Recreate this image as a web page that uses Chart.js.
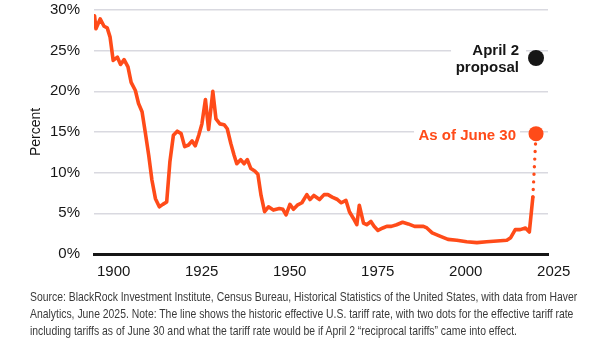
<!DOCTYPE html>
<html>
<head>
<meta charset="utf-8">
<script src="https://cdn.jsdelivr.net/npm/chart.js@4.4.1/dist/chart.umd.min.js"></script>
<style>
  html, body { margin: 0; padding: 0; background: #fff; }
  #wrap { position: relative; width: 602px; height: 342px; overflow: hidden; }
  #note {
    position: absolute; left: 30px; top: 288px;
    font: 13px 'Liberation Sans', Arial, sans-serif;
    line-height: 17px; color: #3a3a3a;
    transform-origin: 0 0; white-space: nowrap;
  }
  #note span { display: inline-block; }
</style>
</head>
<body>
<div id="wrap">
  <canvas id="tariff-chart"></canvas>
  <div id="note">
    <span id="note-l1">Source: BlackRock Investment Institute, Census Bureau, Historical Statistics of the United States, with data from Haver</span><br>
    <span>Analytics, June 2025. Note: The line shows the historic effective U.S. tariff rate, with two dots for the effective tariff rate</span><br>
    <span>including tariffs as of June 30 and what the tariff rate would be if April 2 “reciprocal tariffs” came into effect.</span>
  </div>
</div>
<script>
/* effective U.S. tariff rate, 1899 – 2025 */

// ── DATA ──────────────────────────────────────────────────────────────────────
const years = [
  1899.3, 1899.7, 1900.9, 1902.0, 1902.9, 1903.7, 1904.6, 1905.8, 1906.7, 1907.7,
  1908.8, 1909.7, 1910.9, 1911.8, 1912.8, 1913.7, 1914.7, 1915.6, 1916.6, 1917.7,
  1918.7, 1919.8, 1920.7, 1921.7, 1922.8, 1923.9, 1924.9, 1926.0, 1927.0, 1927.9,
  1928.9, 1929.8, 1930.8, 1931.7, 1932.9, 1933.8, 1934.9, 1936.1, 1937.0, 1938.0,
  1938.9, 1939.7, 1940.8, 1941.8, 1942.7, 1943.7, 1944.8, 1945.7, 1946.6, 1947.6,
  1948.7, 1950.1, 1951.8, 1952.8, 1953.7, 1954.8, 1955.8, 1956.9, 1958.2, 1959.6,
  1960.5, 1961.6, 1963.2, 1964.5, 1965.6, 1966.8, 1968.3, 1969.4, 1970.7, 1971.7,
  1972.8, 1973.8, 1974.5, 1975.7, 1976.6, 1977.8, 1978.7, 1979.8, 1981.2, 1982.3,
  1983.6, 1985.1, 1986.8, 1988.4, 1990.2, 1992.7, 1993.7, 1995.2, 1997.4, 1999.7,
  2002.2, 2005.0, 2007.9, 2010.7, 2013.6, 2016.4, 2017.5, 2018.8, 2020.2, 2021.7,
  2022.8, 2023.8
];
const rates = [
  29.3, 27.7, 28.9, 28.0, 27.8, 26.7, 23.8, 24.2, 23.3, 23.9,
  23.0, 21.1, 20.1, 18.5, 17.5, 15.0, 12.1,  9.1,  6.8,  5.8,
   6.1,  6.4, 11.3, 14.6, 15.1, 14.8, 13.2, 13.4, 13.9, 13.3,
  14.6, 16.0, 19.0, 15.3, 20.0, 16.6, 16.0, 15.9, 15.4, 13.6,
  12.2, 11.1, 11.6, 11.1, 11.6, 10.5, 10.2,  9.8,  7.2,  5.2,
   5.8,  5.4,  5.6,  5.5,  4.8,  6.1,  5.5,  6.0,  6.3,  7.3,
   6.7,  7.2,  6.7,  7.3,  7.3,  7.0,  6.7,  6.3,  6.6,  5.2,
   4.4,  3.6,  6.0,  3.8,  3.6,  4.0,  3.4,  2.9,  3.2,  3.4,
   3.4,  3.6,  3.9,  3.7,  3.4,  3.4,  3.2,  2.6,  2.2,  1.8,
   1.7,  1.5,  1.4,  1.5,  1.6,  1.7,  2.0,  3.0,  3.0,  3.2,
   2.7,  7.0
];

const dotYear     = 2024.7;
const june30Rate  = 14.8;   // "As of June 30"
const aprilRate   = 24.1;   // "April 2 proposal"

const xTicks = [1900, 1925, 1950, 1975, 2000, 2025];
const yTicks = [0, 5, 10, 15, 20, 25, 30];

// ── STYLE ─────────────────────────────────────────────────────────────────────
const ORANGE = '#ff4b19';
const INK    = '#161616';
const GRID   = '#d9d9e0';
const FONT   = "'Liberation Sans', Arial, sans-serif";

// ── PLUGINS ───────────────────────────────────────────────────────────────────
// fixes the plot box so it sits where the original does
const fixedBox = {
  y: s => { s.width = 94; s.paddingTop = 0; s.paddingBottom = 0; },
  x: s => { s.height = 30; }
};

// labels beside the two 2025 dots, on a white patch that hides the gridline
const dotLabels = {
  id: 'dotLabels',
  beforeDatasetsDraw(chart) {
    const { ctx, scales: { x, y } } = chart;
    const px  = x.getPixelForValue(dotYear);
    const pyA = y.getPixelForValue(aprilRate);
    const pyJ = y.getPixelForValue(june30Rate);
    ctx.save();
    ctx.fillStyle = '#fff';
    ctx.fillRect(px - 85, pyA - 19, 75, 39);
    ctx.fillRect(px - 122, pyJ - 10, 106, 20);
    ctx.font      = 'bold 15px ' + FONT;
    ctx.textAlign = 'right';
    ctx.fillStyle = INK;
    ctx.fillText('April 2',  px - 17, pyA - 3);
    ctx.fillText('proposal', px - 17, pyA + 14);
    ctx.fillStyle = ORANGE;
    ctx.fillText('As of June 30', px - 20, pyJ + 6);
    ctx.restore();
  }
};

// ── CHART ─────────────────────────────────────────────────────────────────────
const linePts = years.map((yr, i) => ({ x: yr, y: rates[i] }));
const last    = linePts[linePts.length - 1];

new Chart(document.getElementById('tariff-chart'), {
  type: 'scatter',
  data: {
    datasets: [
      {
        data:             [{ x: dotYear, y: aprilRate }, { x: dotYear, y: june30Rate }],
        pointRadius:      [8, 7.5],
        pointBackgroundColor: [INK, ORANGE],
        pointBorderWidth: 0,
        showLine:         false,
        order:            0
      },
      {
        data:           linePts,
        showLine:       true,
        borderColor:    ORANGE,
        borderWidth:    3.6,
        borderJoinStyle:'round',
        borderCapStyle: 'round',
        pointRadius:    0,
        tension:        0,
        order:          1
      },
      {
        data:           [last, { x: dotYear, y: june30Rate }],
        showLine:       true,
        borderColor:    ORANGE,
        borderWidth:    3.4,
        borderDash:     [0, 7.6],
        borderCapStyle: 'round',
        pointRadius:    0,
        order:          2
      }
    ]
  },
  options: {
    responsive:          true,
    maintainAspectRatio: false,
    animation:           false,
    layout: {
      autoPadding: false,
      padding: { left: 0, right: 54, top: 10, bottom: 58 }
    },
    plugins: {
      legend:  { display: false },
      tooltip: { enabled: false }
    },
    scales: {
      x: {
        type: 'linear',
        min:  1899.15,
        max:  2028.1,
        afterFit: fixedBox.x,
        afterBuildTicks: s => { s.ticks = xTicks.map(v => ({ value: v })); },
        grid:   { display: false, drawTicks: false },
        border: { display: true, color: INK, width: 3 },
        ticks: {
          align:   'start',
          padding: 9,
          color:   INK,
          font:    { family: FONT, size: 15 },
          callback: v => String(v)
        }
      },
      y: {
        min: 0,
        max: 30,
        afterFit: fixedBox.y,
        afterBuildTicks: s => { s.ticks = yTicks.map(v => ({ value: v })); },
        grid:   { color: GRID, lineWidth: 1.5, drawTicks: false },
        border: { display: false },
        ticks: {
          padding: 14,
          color:   INK,
          font:    { family: FONT, size: 15 },
          callback: v => v + '%'
        },
        title: {
          display: true,
          text:    'Percent',
          color:   INK,
          font:    { family: FONT, size: 14 },
          padding: { top: 28, bottom: 0 }
        }
      }
    }
  },
  plugins: [dotLabels]
});

// ── NOTE ──────────────────────────────────────────────────────────────────────
// the source note is set in a condensed face; squeeze the text to its width
const note = document.getElementById('note');
const w1   = document.getElementById('note-l1').offsetWidth;
note.style.transform = 'scaleX(' + (547 / w1).toFixed(4) + ')';
</script>
</body>
</html>
